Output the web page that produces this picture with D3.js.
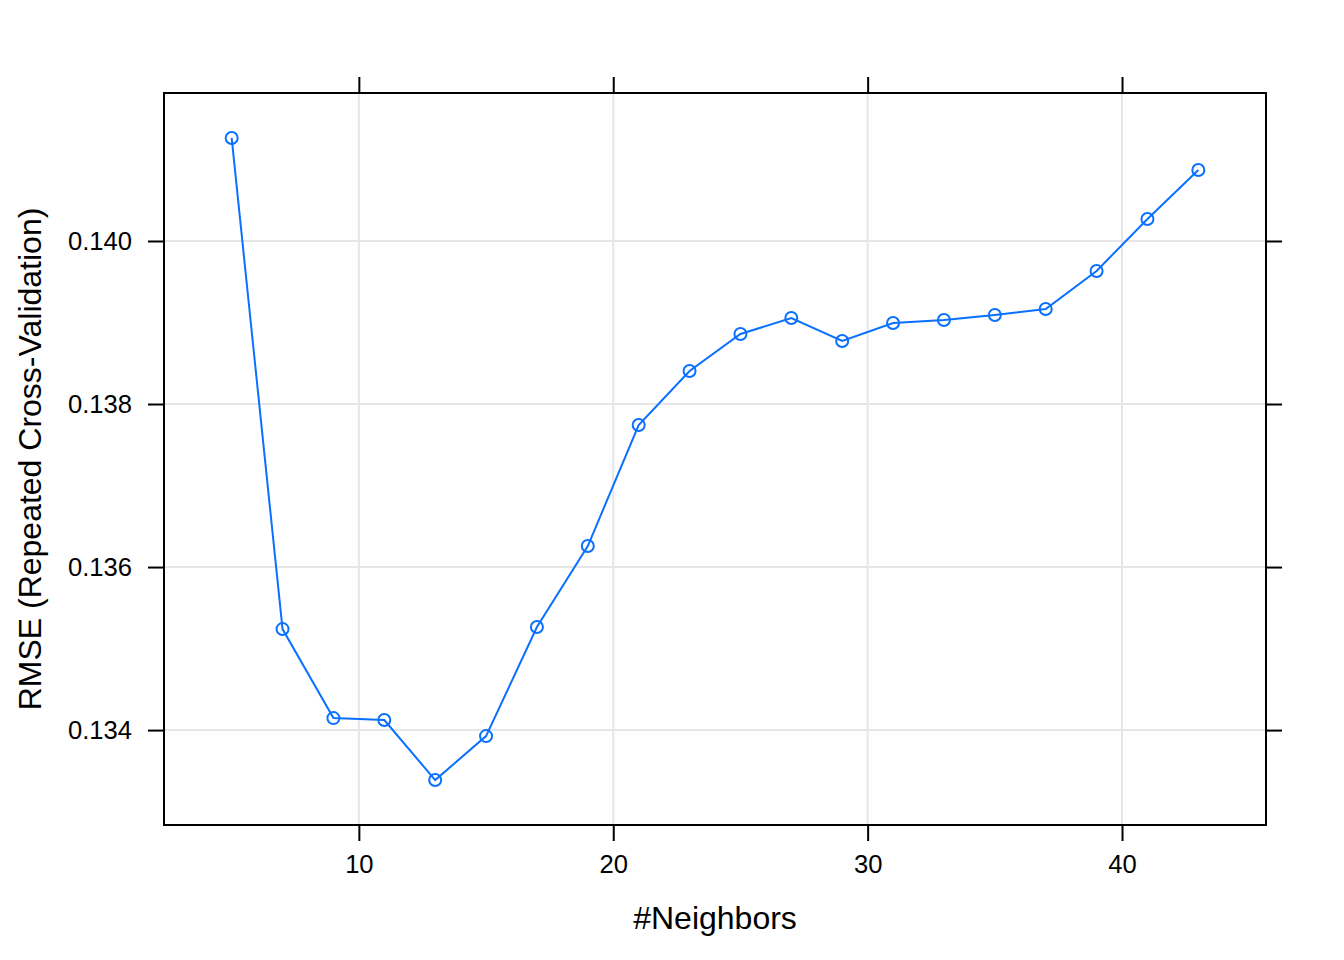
<!DOCTYPE html>
<html><head><meta charset="utf-8">
<script src="https://cdn.jsdelivr.net/npm/d3@7"></script>
<style>body{margin:0;background:#fff;}svg{display:block;font-family:Arial,"Liberation Sans",Helvetica,sans-serif;}</style>
</head><body>
<script>
const neighbors = [5,7,9,11,13,15,17,19,21,23,25,27,29,31,33,35,37,39,41,43];
const rmse = [0.141264,0.135239,0.134147,0.134123,0.133387,0.133926,0.135264,0.136258,0.137742,0.138405,0.138859,0.139055,0.138773,0.138994,0.139031,0.139092,0.139166,0.139632,0.140270,0.140871];
const xTicks = [10,20,30,40];
const yTicks = [0.134,0.136,0.138,0.140];
const xTitle = "#Neighbors";
const yTitle = "RMSE (Repeated Cross-Validation)";

const W=1344,H=960;
const L=164,R=1266,T=93,B=825;
const svg=d3.select("body").append("svg").attr("width",W).attr("height",H);

function padExt(a){const e=d3.extent(a);const p=(e[1]-e[0])*0.07;return [e[0]-p,e[1]+p];}
const x=d3.scaleLinear().domain(padExt(neighbors)).range([L,R]);
const y=d3.scaleLinear().domain(padExt(rmse)).range([B,T]);

// grid
const g=svg.append("g");
g.selectAll(".gx").data(xTicks).enter().append("line")
 .attr("x1",d=>x(d)).attr("x2",d=>x(d)).attr("y1",T).attr("y2",B)
 .attr("stroke","#e6e6e6").attr("stroke-width",2);
g.selectAll(".gy").data(yTicks).enter().append("line")
 .attr("y1",d=>y(d)).attr("y2",d=>y(d)).attr("x1",L).attr("x2",R)
 .attr("stroke","#e6e6e6").attr("stroke-width",2);

// axes
const ax=(gen,tx,ty,labels,pad)=>{
  const a=svg.append("g").attr("transform",`translate(${tx},${ty})`)
   .call(gen.tickSizeOuter(0).tickSize(16).tickPadding(pad));
  a.select(".domain").remove();
  a.selectAll(".tick line").attr("stroke","#000").attr("stroke-width",2);
  a.selectAll("text").attr("font-size",25.6).attr("fill","#000")
   .style("font-family","Arial, 'Liberation Sans', sans-serif");
  if(!labels) a.selectAll("text").remove();
  return a;
};
ax(d3.axisBottom(x).tickValues(xTicks).tickFormat(d3.format("d")),0,B,true,14);
ax(d3.axisTop(x).tickValues(xTicks),0,T,false,8);
ax(d3.axisLeft(y).tickValues(yTicks).tickFormat(d3.format(".3f")),L,0,true,16);
ax(d3.axisRight(y).tickValues(yTicks),R,0,false,8);

svg.append("rect").attr("x",L).attr("y",T).attr("width",R-L).attr("height",B-T)
 .attr("fill","none").attr("stroke","#000").attr("stroke-width",2);

// line + points
const col="#0a70ff";
const pts=neighbors.map((n,i)=>[n,rmse[i]]);
svg.append("path").datum(pts)
 .attr("d",d3.line().x(d=>x(d[0])).y(d=>y(d[1])))
 .attr("fill","none").attr("stroke",col).attr("stroke-width",2);
svg.selectAll(".pt").data(pts).enter().append("circle")
 .attr("cx",d=>x(d[0])).attr("cy",d=>y(d[1])).attr("r",6)
 .attr("fill","none").attr("stroke",col).attr("stroke-width",2);

// titles
svg.append("text").attr("x",(L+R)/2).attr("y",918).attr("text-anchor","middle")
 .attr("dominant-baseline","central").attr("font-size",32).text(xTitle);
svg.append("text").attr("transform",`translate(30,${(T+B)/2}) rotate(-90)`)
 .attr("text-anchor","middle").attr("dominant-baseline","central")
 .attr("font-size",32).text(yTitle);
</script>
</body></html>
